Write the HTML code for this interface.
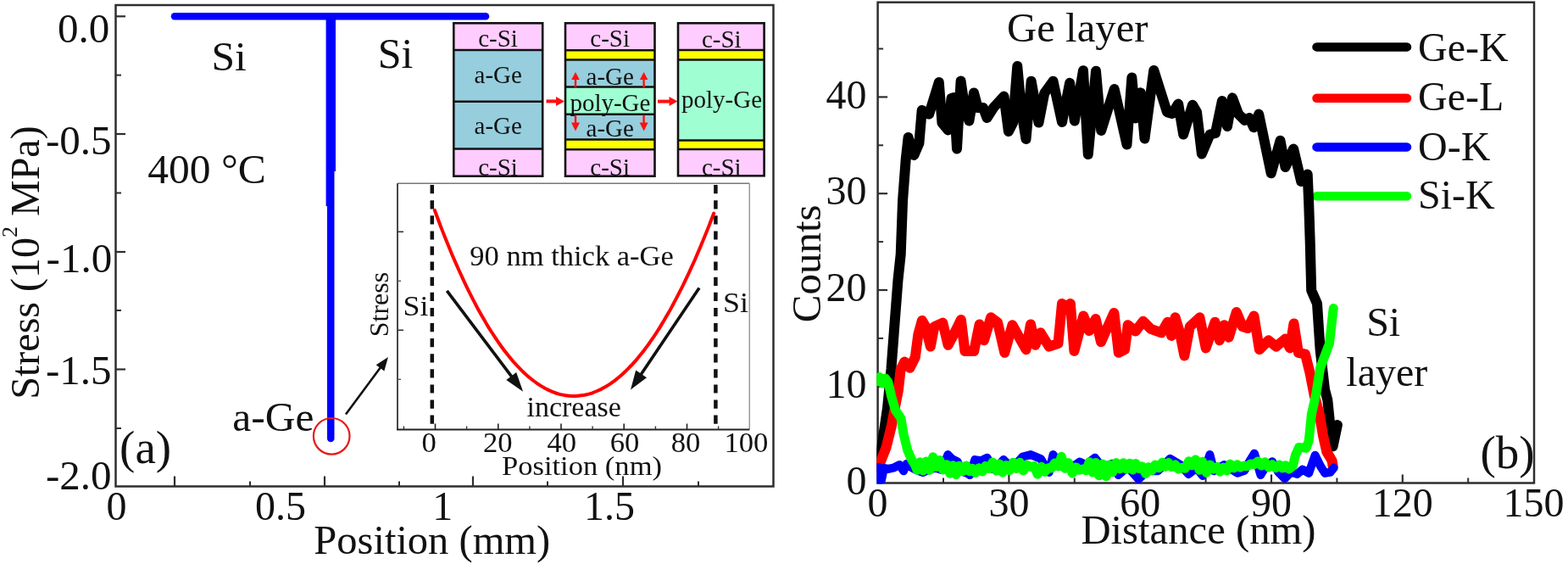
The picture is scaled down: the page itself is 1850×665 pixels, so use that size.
<!DOCTYPE html><html><head><meta charset="utf-8"><style>html,body{margin:0;padding:0;background:#fff;}svg{display:block;}</style></head><body>
<svg width="1850" height="665" viewBox="0 0 1850 665">
<rect width="1850" height="665" fill="#fff"/>
<rect x="136.5" y="6" width="776" height="567.5" fill="none" stroke="#2e2e2e" stroke-width="2.5"/>
<line x1="136.5" y1="19.3" x2="148" y2="19.3" stroke="#2e2e2e" stroke-width="2.2"/>
<line x1="136.5" y1="158" x2="148" y2="158" stroke="#2e2e2e" stroke-width="2.2"/>
<line x1="136.5" y1="297" x2="148" y2="297" stroke="#2e2e2e" stroke-width="2.2"/>
<line x1="136.5" y1="435.5" x2="148" y2="435.5" stroke="#2e2e2e" stroke-width="2.2"/>
<line x1="136.5" y1="88.6" x2="143" y2="88.6" stroke="#2e2e2e" stroke-width="2"/>
<line x1="136.5" y1="227.5" x2="143" y2="227.5" stroke="#2e2e2e" stroke-width="2"/>
<line x1="136.5" y1="366" x2="143" y2="366" stroke="#2e2e2e" stroke-width="2"/>
<line x1="136.5" y1="505" x2="143" y2="505" stroke="#2e2e2e" stroke-width="2"/>
<line x1="206" y1="573.5" x2="206" y2="561.5" stroke="#2e2e2e" stroke-width="2.2"/>
<line x1="383" y1="573.5" x2="383" y2="561.5" stroke="#2e2e2e" stroke-width="2.2"/>
<line x1="558" y1="573.5" x2="558" y2="561.5" stroke="#2e2e2e" stroke-width="2.2"/>
<line x1="735" y1="573.5" x2="735" y2="561.5" stroke="#2e2e2e" stroke-width="2.2"/>
<line x1="295" y1="573.5" x2="295" y2="567.5" stroke="#2e2e2e" stroke-width="2"/>
<line x1="471" y1="573.5" x2="471" y2="567.5" stroke="#2e2e2e" stroke-width="2"/>
<line x1="646" y1="573.5" x2="646" y2="567.5" stroke="#2e2e2e" stroke-width="2"/>
<line x1="824" y1="573.5" x2="824" y2="567.5" stroke="#2e2e2e" stroke-width="2"/>
<text x="129.3" y="49.6" font-family="Liberation Serif, Times New Roman, serif" font-size="49" text-anchor="end" fill="#111">0.0</text>
<text x="131.6" y="181.5" font-family="Liberation Serif, Times New Roman, serif" font-size="49" text-anchor="end" fill="#111">-0.5</text>
<text x="132.2" y="321.3" font-family="Liberation Serif, Times New Roman, serif" font-size="49" text-anchor="end" fill="#111">-1.0</text>
<text x="131.6" y="452.6" font-family="Liberation Serif, Times New Roman, serif" font-size="49" text-anchor="end" fill="#111">-1.5</text>
<text x="131.6" y="577.4" font-family="Liberation Serif, Times New Roman, serif" font-size="49" text-anchor="end" fill="#111">-2.0</text>
<text x="137.5" y="613" font-family="Liberation Serif, Times New Roman, serif" font-size="48" text-anchor="middle" fill="#111">0</text>
<text x="331" y="613" font-family="Liberation Serif, Times New Roman, serif" font-size="48" text-anchor="middle" fill="#111">0.5</text>
<text x="522.2" y="613" font-family="Liberation Serif, Times New Roman, serif" font-size="48" text-anchor="middle" fill="#111">1</text>
<text x="719" y="613" font-family="Liberation Serif, Times New Roman, serif" font-size="48" text-anchor="middle" fill="#111">1.5</text>
<text x="509.8" y="652.7" font-family="Liberation Serif, Times New Roman, serif" font-size="48.5" text-anchor="middle" fill="#111">Position (mm)</text>
<text transform="translate(45.5,309.5) rotate(-90)" font-family="Liberation Serif, Times New Roman, serif" font-size="48" text-anchor="middle" fill="#111">Stress (10<tspan font-size="26" dy="-25.6">2</tspan><tspan dy="25.6"> MPa)</tspan></text>
<text x="270.2" y="82.6" font-family="Liberation Serif, Times New Roman, serif" font-size="49.5" text-anchor="middle" fill="#111">Si</text>
<text x="466.5" y="79.6" font-family="Liberation Serif, Times New Roman, serif" font-size="50" text-anchor="middle" fill="#111">Si</text>
<text x="244" y="216.3" font-family="Liberation Serif, Times New Roman, serif" font-size="49.5" text-anchor="middle" fill="#111">400 °C</text>
<text x="322.3" y="507.8" font-family="Liberation Serif, Times New Roman, serif" font-size="49.5" text-anchor="middle" fill="#111">a-Ge</text>
<text x="171.6" y="546" font-family="Liberation Serif, Times New Roman, serif" font-size="55" text-anchor="middle" fill="#111">(a)</text>
<line x1="206" y1="19.2" x2="573" y2="19.2" stroke="#0000ff" stroke-width="8.5" stroke-linecap="round"/>
<path d="M384.6,19 L396,19 L396,202 L394.5,202 L394.5,517 A4.25,4.25 0 0 1 386,517 L386,243 L384.6,243 Z" fill="#0000ff"/>
<circle cx="391.2" cy="514.3" r="21.3" fill="none" stroke="#e81818" stroke-width="2.2"/>
<line x1="408.0" y1="488.6" x2="450.4" y2="431.3" stroke="#111" stroke-width="2.6"/><polygon points="458.0,421.0 453.3,437.4 443.7,430.3" fill="#111"/>
<svg x="0" y="0" width="1850" height="665">
<rect x="535.3" y="27.3" width="104.90000000000009" height="31.7" fill="#ffccff"/><rect x="535.3" y="59" width="104.90000000000009" height="60.7" fill="#96cede"/><rect x="535.3" y="119.7" width="104.90000000000009" height="55.7" fill="#96cede"/><rect x="535.3" y="175.4" width="104.90000000000009" height="32.29999999999998" fill="#ffccff"/><line x1="535.3" y1="59" x2="640.2" y2="59" stroke="#111" stroke-width="2.5"/><line x1="535.3" y1="119.7" x2="640.2" y2="119.7" stroke="#111" stroke-width="2.5"/><line x1="535.3" y1="175.4" x2="640.2" y2="175.4" stroke="#111" stroke-width="2.5"/><rect x="535.3" y="27.3" width="104.90000000000009" height="180.39999999999998" fill="none" stroke="#111" stroke-width="2.6"/><text x="587.5" y="55.4" font-family="Liberation Serif, Times New Roman, serif" font-size="29" text-anchor="middle" fill="#111">c-Si</text><text x="587.7" y="97.6" font-family="Liberation Serif, Times New Roman, serif" font-size="29" text-anchor="middle" fill="#111">a-Ge</text><text x="587.7" y="157.8" font-family="Liberation Serif, Times New Roman, serif" font-size="29" text-anchor="middle" fill="#111">a-Ge</text><text x="587.5" y="206.5" font-family="Liberation Serif, Times New Roman, serif" font-size="29" text-anchor="middle" fill="#111">c-Si</text>
<rect x="667" y="27.3" width="105.5" height="31.999999999999996" fill="#ffccff"/><rect x="667" y="59.3" width="105.5" height="11.200000000000003" fill="#ffff00"/><rect x="667" y="70.5" width="105.5" height="32.0" fill="#96cede"/><rect x="667" y="102.5" width="105.5" height="32.19999999999999" fill="#a0ffd2"/><rect x="667" y="134.7" width="105.5" height="29.80000000000001" fill="#96cede"/><rect x="667" y="164.5" width="105.5" height="11.800000000000011" fill="#ffff00"/><rect x="667" y="176.3" width="105.5" height="31.399999999999977" fill="#ffccff"/><line x1="667" y1="59.3" x2="772.5" y2="59.3" stroke="#111" stroke-width="2.5"/><line x1="667" y1="70.5" x2="772.5" y2="70.5" stroke="#111" stroke-width="2.5"/><line x1="667" y1="102.5" x2="772.5" y2="102.5" stroke="#111" stroke-width="2.5"/><line x1="667" y1="134.7" x2="772.5" y2="134.7" stroke="#111" stroke-width="2.5"/><line x1="667" y1="164.5" x2="772.5" y2="164.5" stroke="#111" stroke-width="2.5"/><line x1="667" y1="176.3" x2="772.5" y2="176.3" stroke="#111" stroke-width="2.5"/><rect x="667" y="27.3" width="105.5" height="180.39999999999998" fill="none" stroke="#111" stroke-width="2.6"/><text x="719.7" y="55.4" font-family="Liberation Serif, Times New Roman, serif" font-size="29" text-anchor="middle" fill="#111">c-Si</text><text x="719.7" y="99.8" font-family="Liberation Serif, Times New Roman, serif" font-size="29" text-anchor="middle" fill="#111">a-Ge</text><text x="719.9" y="131" font-family="Liberation Serif, Times New Roman, serif" font-size="29" text-anchor="middle" fill="#111">poly-Ge</text><text x="719.7" y="161.3" font-family="Liberation Serif, Times New Roman, serif" font-size="29" text-anchor="middle" fill="#111">a-Ge</text><text x="719.7" y="206.5" font-family="Liberation Serif, Times New Roman, serif" font-size="29" text-anchor="middle" fill="#111">c-Si</text>
<rect x="800" y="27.3" width="101.60000000000002" height="31.7" fill="#ffccff"/><rect x="800" y="59" width="101.60000000000002" height="11.400000000000006" fill="#ffff00"/><rect x="800" y="70.4" width="101.60000000000002" height="95.19999999999999" fill="#a0ffd2"/><rect x="800" y="165.6" width="101.60000000000002" height="10.400000000000006" fill="#ffff00"/><rect x="800" y="176" width="101.60000000000002" height="31.30000000000001" fill="#ffccff"/><line x1="800" y1="59" x2="901.6" y2="59" stroke="#111" stroke-width="2.5"/><line x1="800" y1="70.4" x2="901.6" y2="70.4" stroke="#111" stroke-width="2.5"/><line x1="800" y1="165.6" x2="901.6" y2="165.6" stroke="#111" stroke-width="2.5"/><line x1="800" y1="176" x2="901.6" y2="176" stroke="#111" stroke-width="2.5"/><rect x="800" y="27.3" width="101.60000000000002" height="180.0" fill="none" stroke="#111" stroke-width="2.6"/><text x="851.3" y="56.2" font-family="Liberation Serif, Times New Roman, serif" font-size="29" text-anchor="middle" fill="#111">c-Si</text><text x="851.5" y="127" font-family="Liberation Serif, Times New Roman, serif" font-size="29" text-anchor="middle" fill="#111">poly-Ge</text><text x="851.3" y="206.5" font-family="Liberation Serif, Times New Roman, serif" font-size="29" text-anchor="middle" fill="#111">c-Si</text>
</svg>
<line x1="644.5" y1="119.4" x2="658.0" y2="119.4" stroke="#ff1010" stroke-width="4"/><polygon points="666.0,119.4 656.0,124.9 656.0,113.9" fill="#ff1010"/>
<line x1="776.0" y1="119.6" x2="791.5" y2="119.6" stroke="#ff1010" stroke-width="4"/><polygon points="799.5,119.6 789.5,125.1 789.5,114.1" fill="#ff1010"/>
<line x1="679.0" y1="103.0" x2="679.0" y2="92.2" stroke="#ff1010" stroke-width="2.4"/><polygon points="679.0,85.0 683.8,94.0 674.2,94.0" fill="#ff1010"/>
<line x1="679.0" y1="135.5" x2="679.0" y2="146.5" stroke="#ff1010" stroke-width="2.4"/><polygon points="679.0,154.5 674.0,144.5 684.0,144.5" fill="#ff1010"/>
<line x1="759.6" y1="103.0" x2="759.6" y2="92.2" stroke="#ff1010" stroke-width="2.4"/><polygon points="759.6,85.0 764.4,94.0 754.9,94.0" fill="#ff1010"/>
<line x1="759.6" y1="135.5" x2="759.6" y2="146.5" stroke="#ff1010" stroke-width="2.4"/><polygon points="759.6,154.5 754.6,144.5 764.6,144.5" fill="#ff1010"/>
<rect x="469" y="216.3" width="415.3" height="290.1" fill="#fff" stroke="none"/>
<line x1="469" y1="216.3" x2="884.3" y2="216.3" stroke="#777" stroke-width="1.5"/>
<line x1="884.3" y1="216.3" x2="884.3" y2="506.4" stroke="#999" stroke-width="1.5"/>
<line x1="469" y1="216.3" x2="469" y2="506.4" stroke="#333" stroke-width="1.8"/>
<line x1="468" y1="506.4" x2="884.3" y2="506.4" stroke="#222" stroke-width="2"/>
<line x1="469" y1="273.3" x2="476" y2="273.3" stroke="#333" stroke-width="1.6"/>
<line x1="469" y1="389.3" x2="476" y2="389.3" stroke="#333" stroke-width="1.6"/>
<line x1="469" y1="331.3" x2="473" y2="331.3" stroke="#555" stroke-width="1.4"/>
<line x1="469" y1="447.3" x2="473" y2="447.3" stroke="#555" stroke-width="1.4"/>
<line x1="513.5" y1="506.4" x2="513.5" y2="499.5" stroke="#222" stroke-width="1.6"/>
<line x1="587.8" y1="506.4" x2="587.8" y2="499.5" stroke="#222" stroke-width="1.6"/>
<line x1="662.0" y1="506.4" x2="662.0" y2="499.5" stroke="#222" stroke-width="1.6"/>
<line x1="736.2" y1="506.4" x2="736.2" y2="499.5" stroke="#222" stroke-width="1.6"/>
<line x1="810.5" y1="506.4" x2="810.5" y2="499.5" stroke="#222" stroke-width="1.6"/>
<line x1="476.4" y1="506.4" x2="476.4" y2="502.5" stroke="#333" stroke-width="1.4"/>
<line x1="550.6" y1="506.4" x2="550.6" y2="502.5" stroke="#333" stroke-width="1.4"/>
<line x1="624.9" y1="506.4" x2="624.9" y2="502.5" stroke="#333" stroke-width="1.4"/>
<line x1="699.1" y1="506.4" x2="699.1" y2="502.5" stroke="#333" stroke-width="1.4"/>
<line x1="773.4" y1="506.4" x2="773.4" y2="502.5" stroke="#333" stroke-width="1.4"/>
<line x1="847.6" y1="506.4" x2="847.6" y2="502.5" stroke="#333" stroke-width="1.4"/>
<text transform="translate(506.2,532.6) scale(1.05,1)" font-family="Liberation Serif, Times New Roman, serif" font-size="33" text-anchor="middle" fill="#111">0</text>
<text transform="translate(587.2,532.6) scale(1.05,1)" font-family="Liberation Serif, Times New Roman, serif" font-size="33" text-anchor="middle" fill="#111">20</text>
<text transform="translate(662.7,532.6) scale(1.05,1)" font-family="Liberation Serif, Times New Roman, serif" font-size="33" text-anchor="middle" fill="#111">40</text>
<text transform="translate(737,532.6) scale(1.05,1)" font-family="Liberation Serif, Times New Roman, serif" font-size="33" text-anchor="middle" fill="#111">60</text>
<text transform="translate(809,532.6) scale(1.05,1)" font-family="Liberation Serif, Times New Roman, serif" font-size="33" text-anchor="middle" fill="#111">80</text>
<text transform="translate(880.4,532.6) scale(1.05,1)" font-family="Liberation Serif, Times New Roman, serif" font-size="33" text-anchor="middle" fill="#111">100</text>
<text x="686.5" y="560.3" font-family="Liberation Serif, Times New Roman, serif" font-size="32" text-anchor="middle" fill="#111" textLength="189" lengthAdjust="spacingAndGlyphs">Position (nm)</text>
<text transform="translate(457.5,359) rotate(-90)" font-family="Liberation Serif, Times New Roman, serif" font-size="32" text-anchor="middle" fill="#111">Stress</text>
<line x1="509.8" y1="218.1" x2="509.8" y2="499.7" stroke="#111" stroke-width="4.5" stroke-dasharray="10.2,7.9"/>
<line x1="844.4" y1="218.1" x2="844.4" y2="499.7" stroke="#111" stroke-width="4.5" stroke-dasharray="10.2,7.9"/>
<text transform="translate(490.5,371.5) scale(1.09,1)" font-family="Liberation Serif, Times New Roman, serif" font-size="33" text-anchor="middle" fill="#111">Si</text>
<text transform="translate(868,367.7) scale(1.09,1)" font-family="Liberation Serif, Times New Roman, serif" font-size="33" text-anchor="middle" fill="#111">Si</text>
<text x="674.6" y="312.6" font-family="Liberation Serif, Times New Roman, serif" font-size="34.5" text-anchor="middle" fill="#111">90 nm thick a-Ge</text>
<text x="677.2" y="491.2" font-family="Liberation Serif, Times New Roman, serif" font-size="34" text-anchor="middle" fill="#111">increase</text>
<path d="M512.8,247.8 C513.5,249.7 515.6,255.3 517.0,259.0 C518.4,262.7 519.7,266.3 521.1,269.9 C522.5,273.5 523.9,277.0 525.3,280.5 C526.7,284.0 528.1,287.4 529.5,290.8 C530.9,294.1 532.3,297.5 533.6,300.7 C535.0,304.0 536.4,307.2 537.8,310.4 C539.2,313.6 540.6,316.7 542.0,319.8 C543.4,322.9 544.8,325.9 546.2,328.9 C547.5,331.8 548.9,334.8 550.3,337.6 C551.7,340.5 553.1,343.3 554.5,346.1 C555.9,348.9 557.3,351.6 558.7,354.3 C560.1,357.0 561.4,359.6 562.8,362.2 C564.2,364.8 565.6,367.3 567.0,369.8 C568.4,372.3 569.8,374.7 571.2,377.1 C572.6,379.5 574.0,381.8 575.3,384.1 C576.7,386.4 578.1,388.6 579.5,390.8 C580.9,393.0 582.3,395.1 583.7,397.2 C585.1,399.3 586.5,401.4 587.9,403.4 C589.2,405.4 590.6,407.3 592.0,409.2 C593.4,411.1 594.8,413.0 596.2,414.8 C597.6,416.6 599.0,418.3 600.4,420.0 C601.8,421.8 603.1,423.4 604.5,425.0 C605.9,426.7 607.3,428.2 608.7,429.7 C610.1,431.3 611.5,432.7 612.9,434.2 C614.3,435.6 615.7,437.0 617.0,438.3 C618.4,439.6 619.8,440.9 621.2,442.2 C622.6,443.4 624.0,444.6 625.4,445.7 C626.8,446.9 628.2,448.0 629.5,449.0 C630.9,450.1 632.3,451.1 633.7,452.1 C635.1,453.0 636.5,453.9 637.9,454.8 C639.3,455.7 640.7,456.5 642.1,457.3 C643.4,458.0 644.8,458.8 646.2,459.4 C647.6,460.1 649.0,460.8 650.4,461.3 C651.8,461.9 653.2,462.5 654.6,463.0 C656.0,463.5 657.3,463.9 658.7,464.3 C660.1,464.7 661.5,465.1 662.9,465.4 C664.3,465.7 665.7,466.0 667.1,466.2 C668.5,466.4 669.9,466.6 671.2,466.7 C672.6,466.8 674.0,466.9 675.4,467.0 C676.8,467.0 678.2,467.0 679.6,466.9 C681.0,466.9 682.4,466.8 683.8,466.6 C685.1,466.5 686.5,466.3 687.9,466.1 C689.3,465.8 690.7,465.5 692.1,465.2 C693.5,464.9 694.9,464.5 696.3,464.1 C697.7,463.7 699.0,463.2 700.4,462.7 C701.8,462.2 703.2,461.6 704.6,461.0 C706.0,460.4 707.4,459.8 708.8,459.1 C710.2,458.4 711.6,457.6 712.9,456.8 C714.3,456.1 715.7,455.2 717.1,454.4 C718.5,453.5 719.9,452.6 721.3,451.6 C722.7,450.6 724.1,449.6 725.5,448.6 C726.8,447.5 728.2,446.4 729.6,445.2 C731.0,444.1 732.4,442.9 733.8,441.7 C735.2,440.4 736.6,439.1 738.0,437.8 C739.3,436.5 740.7,435.1 742.1,433.7 C743.5,432.2 744.9,430.8 746.3,429.3 C747.7,427.8 749.1,426.2 750.5,424.6 C751.9,423.0 753.2,421.3 754.6,419.6 C756.0,417.9 757.4,416.2 758.8,414.4 C760.2,412.6 761.6,410.8 763.0,408.9 C764.4,407.0 765.8,405.1 767.1,403.1 C768.5,401.1 769.9,399.1 771.3,397.1 C772.7,395.0 774.1,392.9 775.5,390.7 C776.9,388.6 778.3,386.4 779.7,384.1 C781.0,381.9 782.4,379.6 783.8,377.2 C785.2,374.9 786.6,372.5 788.0,370.1 C789.4,367.7 790.8,365.2 792.2,362.6 C793.6,360.1 794.9,357.5 796.3,354.9 C797.7,352.3 799.1,349.6 800.5,346.9 C801.9,344.2 803.3,341.5 804.7,338.7 C806.1,335.8 807.5,333.0 808.8,330.1 C810.2,327.2 811.6,324.3 813.0,321.3 C814.4,318.3 815.8,315.2 817.2,312.1 C818.6,309.1 820.0,305.9 821.4,302.7 C822.7,299.6 824.1,296.3 825.5,293.1 C826.9,289.8 828.3,286.5 829.7,283.1 C831.1,279.7 832.5,276.3 833.9,272.8 C835.3,269.4 836.6,265.9 838.0,262.3 C839.4,258.7 841.5,253.3 842.2,251.5" fill="none" stroke="#ff0000" stroke-width="4" stroke-linecap="round"/>
<line x1="527.3" y1="342.8" x2="606.0" y2="447.1" stroke="#111" stroke-width="3.6"/><polygon points="617.1,461.8 597.3,448.0 609.2,438.9" fill="#111"/>
<line x1="825.0" y1="339.5" x2="754.1" y2="444.7" stroke="#111" stroke-width="3.6"/><polygon points="744.0,459.6 750.2,436.6 763.0,445.3" fill="#111"/>
<rect x="1035.6" y="2.7" width="774.4000000000001" height="566.8" fill="none" stroke="#2e2e2e" stroke-width="2.5"/>
<line x1="1035.6" y1="455.8" x2="1047.1" y2="455.8" stroke="#2e2e2e" stroke-width="2.2"/>
<line x1="1035.6" y1="342.0" x2="1047.1" y2="342.0" stroke="#2e2e2e" stroke-width="2.2"/>
<line x1="1035.6" y1="228.2" x2="1047.1" y2="228.2" stroke="#2e2e2e" stroke-width="2.2"/>
<line x1="1035.6" y1="114.4" x2="1047.1" y2="114.4" stroke="#2e2e2e" stroke-width="2.2"/>
<line x1="1035.6" y1="512.7" x2="1042.1" y2="512.7" stroke="#2e2e2e" stroke-width="2"/>
<line x1="1035.6" y1="398.9" x2="1042.1" y2="398.9" stroke="#2e2e2e" stroke-width="2"/>
<line x1="1035.6" y1="285.1" x2="1042.1" y2="285.1" stroke="#2e2e2e" stroke-width="2"/>
<line x1="1035.6" y1="171.3" x2="1042.1" y2="171.3" stroke="#2e2e2e" stroke-width="2"/>
<line x1="1035.6" y1="57.5" x2="1042.1" y2="57.5" stroke="#2e2e2e" stroke-width="2"/>
<line x1="1190.4" y1="569.5" x2="1190.4" y2="559.5" stroke="#2e2e2e" stroke-width="2.2"/>
<line x1="1345.2" y1="569.5" x2="1345.2" y2="559.5" stroke="#2e2e2e" stroke-width="2.2"/>
<line x1="1500.0" y1="569.5" x2="1500.0" y2="559.5" stroke="#2e2e2e" stroke-width="2.2"/>
<line x1="1654.8" y1="569.5" x2="1654.8" y2="559.5" stroke="#2e2e2e" stroke-width="2.2"/>
<line x1="1113.0" y1="569.5" x2="1113.0" y2="563.5" stroke="#2e2e2e" stroke-width="2"/>
<line x1="1267.8" y1="569.5" x2="1267.8" y2="563.5" stroke="#2e2e2e" stroke-width="2"/>
<line x1="1422.6" y1="569.5" x2="1422.6" y2="563.5" stroke="#2e2e2e" stroke-width="2"/>
<line x1="1577.4" y1="569.5" x2="1577.4" y2="563.5" stroke="#2e2e2e" stroke-width="2"/>
<line x1="1732.2" y1="569.5" x2="1732.2" y2="563.5" stroke="#2e2e2e" stroke-width="2"/>
<text x="1022.5" y="583" font-family="Liberation Serif, Times New Roman, serif" font-size="48" text-anchor="end" fill="#111">0</text>
<text x="1022.5" y="469.3" font-family="Liberation Serif, Times New Roman, serif" font-size="48" text-anchor="end" fill="#111">10</text>
<text x="1022.5" y="355.4" font-family="Liberation Serif, Times New Roman, serif" font-size="48" text-anchor="end" fill="#111">20</text>
<text x="1022.5" y="241" font-family="Liberation Serif, Times New Roman, serif" font-size="48" text-anchor="end" fill="#111">30</text>
<text x="1022.5" y="127.5" font-family="Liberation Serif, Times New Roman, serif" font-size="48" text-anchor="end" fill="#111">40</text>
<text x="1035.6" y="608.8" font-family="Liberation Serif, Times New Roman, serif" font-size="48" text-anchor="middle" fill="#111">0</text>
<text x="1190.4" y="608.8" font-family="Liberation Serif, Times New Roman, serif" font-size="48" text-anchor="middle" fill="#111">30</text>
<text x="1345.2" y="608.8" font-family="Liberation Serif, Times New Roman, serif" font-size="48" text-anchor="middle" fill="#111">60</text>
<text x="1500.0" y="608.8" font-family="Liberation Serif, Times New Roman, serif" font-size="48" text-anchor="middle" fill="#111">90</text>
<text x="1654.8" y="608.8" font-family="Liberation Serif, Times New Roman, serif" font-size="48" text-anchor="middle" fill="#111">120</text>
<text x="1809.6" y="608.8" font-family="Liberation Serif, Times New Roman, serif" font-size="48" text-anchor="middle" fill="#111">150</text>
<text x="1414" y="641" font-family="Liberation Serif, Times New Roman, serif" font-size="48.7" text-anchor="middle" fill="#111">Distance (nm)</text>
<text transform="translate(968,310.8) rotate(-90)" font-family="Liberation Serif, Times New Roman, serif" font-size="49" text-anchor="middle" fill="#111">Counts</text>
<text x="1271.3" y="49.2" font-family="Liberation Serif, Times New Roman, serif" font-size="48.8" text-anchor="middle" fill="#111">Ge layer</text>
<text x="1632.2" y="396.3" font-family="Liberation Serif, Times New Roman, serif" font-size="48" text-anchor="middle" fill="#111">Si</text>
<text x="1636.3" y="455.3" font-family="Liberation Serif, Times New Roman, serif" font-size="48" text-anchor="middle" fill="#111">layer</text>
<text x="1778.6" y="552" font-family="Liberation Serif, Times New Roman, serif" font-size="55" text-anchor="middle" fill="#111">(b)</text>
<line x1="1553.5" y1="55.4" x2="1660" y2="55.4" stroke="#000" stroke-width="10.5" stroke-linecap="round"/>
<text x="1673" y="72.1" font-family="Liberation Serif, Times New Roman, serif" font-size="48" fill="#111">Ge-K</text>
<line x1="1553.5" y1="115.7" x2="1660" y2="115.7" stroke="#ff0000" stroke-width="10.5" stroke-linecap="round"/>
<text x="1673" y="129.8" font-family="Liberation Serif, Times New Roman, serif" font-size="48" fill="#111">Ge-L</text>
<line x1="1553.5" y1="173.4" x2="1660" y2="173.4" stroke="#0000ff" stroke-width="10.5" stroke-linecap="round"/>
<text x="1673" y="188.7" font-family="Liberation Serif, Times New Roman, serif" font-size="48" fill="#111">O-K</text>
<line x1="1553.5" y1="231.2" x2="1660" y2="231.2" stroke="#00ff00" stroke-width="10.5" stroke-linecap="round"/>
<text x="1673" y="245.5" font-family="Liberation Serif, Times New Roman, serif" font-size="48" fill="#111">Si-K</text>
<defs><clipPath id="cb"><rect x="1034.3" y="2" width="780" height="568.5"/></clipPath></defs>
<g fill="none" stroke-linejoin="round" stroke-linecap="round" clip-path="url(#cb)">
<polyline points="1035.5,550.0 1037.5,542.0 1039.5,533.0 1042.5,512.0 1047.0,481.0 1051.5,435.0 1055.8,378.0 1059.5,330.0 1062.7,300.0 1065.1,236.0 1068.7,188.0 1071.6,162.0 1078.4,183.0 1084.4,169.0 1087.7,130.0 1096.2,134.6 1107.8,97.0 1111.5,145.0 1118.6,153.5 1122.5,116.0 1125.6,115.0 1129.0,175.5 1133.6,95.5 1138.2,126.9 1143.4,142.5 1149.0,109.5 1153.6,126.9 1159.9,126.9 1164.5,139.0 1172.5,126.5 1184.5,113.6 1189.9,155.0 1195.0,145.0 1200.3,78.0 1205.0,130.0 1210.5,164.0 1216.7,95.7 1225.5,144.6 1232.2,110.0 1242.5,95.7 1253.0,144.0 1262.1,97.8 1267.8,142.5 1278.0,83.2 1283.8,182.0 1293.0,83.8 1299.2,154.0 1314.7,105.0 1329.5,170.5 1335.4,91.5 1339.7,139.4 1345.7,109.3 1350.5,163.4 1361.3,82.9 1377.0,132.2 1383.0,134.0 1390.2,122.5 1396.2,158.6 1407.0,123.7 1412.0,132.0 1417.9,181.5 1427.5,158.6 1434.0,157.0 1441.9,119.0 1448.0,149.0 1454.0,115.3 1461.2,134.6 1468.4,141.8 1474.0,139.0 1479.2,150.2 1485.2,134.6 1499.7,204.3 1510.5,165.8 1516.5,197.1 1526.1,175.5 1535.2,214.0 1542.7,205.6 1544.2,240.0 1545.7,285.0 1547.2,342.4 1554.0,358.0 1557.6,412.2 1563.0,459.2 1566.3,471.6 1569.5,503.2 1572.6,526.3 1577.9,501.0" stroke="#000" stroke-width="12"/>
<polyline points="1035.0,551.0 1037.5,548.0 1045.5,527.7 1051.8,502.5 1056.5,477.3 1059.9,460.0 1062.6,435.6 1067.1,426.6 1073.5,433.8 1079.8,421.2 1083.4,394.1 1087.9,377.9 1092.0,385.0 1097.8,408.6 1102.3,385.1 1112.3,380.6 1118.6,406.8 1125.0,395.0 1133.9,377.0 1138.4,414.0 1149.2,414.0 1155.6,382.4 1161.0,401.3 1169.1,374.3 1177.0,380.0 1185.3,415.8 1194.4,383.3 1201.0,395.0 1210.6,412.2 1216.0,382.4 1221.4,406.8 1227.7,392.3 1237.7,408.6 1248.5,405.0 1253.0,358.0 1258.0,362.0 1262.9,358.0 1267.4,414.0 1278.3,372.5 1285.0,390.0 1292.7,376.1 1299.0,403.2 1304.0,392.0 1314.4,368.9 1319.8,415.8 1327.1,412.2 1330.7,383.3 1339.7,390.5 1348.7,378.8 1357.7,387.8 1370.4,392.3 1377.6,379.7 1382.1,395.9 1386.6,374.3 1392.0,392.0 1397.4,419.4 1403.8,385.1 1415.5,374.3 1422.7,410.4 1433.5,379.7 1438.9,401.3 1444.4,383.3 1449.8,397.7 1458.8,368.0 1466.0,385.1 1472.0,387.0 1479.5,372.5 1485.9,412.2 1496.7,401.3 1505.7,408.6 1516.5,399.5 1521.9,410.4 1526.5,381.5 1531.9,415.8 1540.0,417.6 1545.4,439.2 1550.5,465.3 1556.8,488.4 1561.0,513.7 1565.3,532.6 1571.6,543.2 1572.6,549.5" stroke="#ff0000" stroke-width="12"/>
<polyline points="1035.0,568.0 1037.0,551.0 1040.0,566.0 1043.0,552.0 1047.5,553.0 1054.0,551.7 1061.3,548.1 1066.1,555.3 1069.7,546.9 1074.5,550.5 1081.0,554.0 1089.0,557.1 1097.0,553.0 1104.6,551.7 1111.0,554.0 1118.4,536.1 1123.0,541.0 1129.8,544.5 1135.0,556.0 1140.7,557.7 1144.3,560.1 1150.3,542.1 1157.5,543.3 1164.7,539.7 1170.8,552.9 1177.0,550.0 1184.0,542.1 1190.0,548.0 1197.0,549.0 1206.5,538.5 1216.1,536.1 1228.0,541.0 1237.7,557.0 1242.6,536.0 1250.0,548.0 1254.6,550.5 1263.0,552.0 1273.8,544.5 1281.0,548.0 1291.9,539.7 1300.3,550.5 1312.3,546.9 1319.5,560.1 1330.4,550.5 1343.2,565.0 1354.0,555.0 1366.1,555.3 1380.5,540.9 1392.6,548.1 1402.2,558.9 1411.8,551.7 1419.0,561.0 1427.4,536.1 1432.3,555.3 1444.3,548.1 1460.0,557.7 1468.4,554.7 1474.7,543.2 1480.0,534.7 1487.4,560.0 1493.7,549.5 1501.0,544.2 1508.4,556.8 1515.8,564.2 1523.2,556.8 1530.5,559.0 1536.8,553.7 1544.2,557.9 1551.6,536.8 1557.9,549.5 1563.2,557.9 1569.5,556.8 1573.7,551.6" stroke="#0000ff" stroke-width="10"/>
<polyline points="1034.0,450.0 1037.5,444.5 1041.0,452.0 1044.5,446.0 1048.0,451.0 1051.8,467.8 1056.5,483.6 1062.9,493.0 1066.1,512.0 1070.9,531.3 1075.7,542.1 1079.5,548.0 1082.0,554.3 1085.6,544.8 1089.1,555.1 1092.9,544.0 1096.9,554.4 1100.8,538.8 1104.3,550.5 1108.7,542.5 1112.4,553.9 1116.9,547.7 1120.8,558.3 1124.3,548.7 1128.0,559.6 1131.6,549.2 1135.9,555.6 1140.0,549.1 1143.9,555.7 1147.4,552.3 1151.0,557.5 1154.9,551.8 1159.0,556.0 1162.8,549.4 1167.0,552.6 1171.1,545.0 1175.6,555.1 1179.3,546.9 1182.9,557.0 1187.2,548.6 1191.1,554.7 1195.3,545.2 1199.4,552.5 1203.2,545.2 1207.3,555.0 1211.3,548.1 1215.8,550.5 1220.0,549.5 1224.2,559.2 1228.8,550.3 1232.6,556.4 1236.8,551.8 1240.7,552.0 1244.3,546.0 1248.6,550.0 1252.3,538.3 1256.7,552.3 1260.7,545.7 1265.1,558.0 1269.6,550.9 1273.5,554.2 1277.9,553.0 1281.5,554.8 1285.2,544.7 1289.2,557.1 1292.9,545.5 1296.8,560.8 1300.9,547.1 1305.1,561.8 1309.2,548.1 1312.7,556.7 1317.0,545.6 1321.4,552.9 1325.3,545.7 1329.4,553.2 1332.9,546.2 1336.5,554.0 1340.0,546.5 1343.6,552.5 1347.4,549.8 1351.8,558.4 1355.4,550.7 1359.2,554.5 1362.8,548.1 1367.4,551.8 1371.4,545.2 1374.9,550.2 1378.6,545.5 1382.2,550.6 1386.7,548.0 1390.3,553.0 1393.7,551.5 1398.3,552.2 1402.6,543.7 1406.4,548.8 1410.7,541.9 1415.1,554.2 1418.7,544.2 1423.3,557.3 1427.7,547.9 1432.0,553.1 1436.0,550.5 1439.4,556.3 1443.2,551.2 1447.4,555.0 1451.3,547.1 1455.9,551.9 1459.7,547.8 1463.4,551.1 1467.1,549.2 1471.5,549.7 1475.5,547.0 1479.9,547.5 1484.1,544.0 1488.4,549.1 1492.4,544.7 1496.7,551.0 1501.1,547.7 1505.0,551.8 1509.5,548.0 1513.1,552.0 1516.7,548.8 1521.0,553.0 1525.3,549.5 1528.4,536.8 1532.6,527.4 1541.0,528.4 1544.2,520.0 1547.4,488.4 1552.6,465.3 1557.6,434.0 1568.5,405.0 1573.2,363.5" stroke="#00ff00" stroke-width="11"/>
</g>
</svg></body></html>
